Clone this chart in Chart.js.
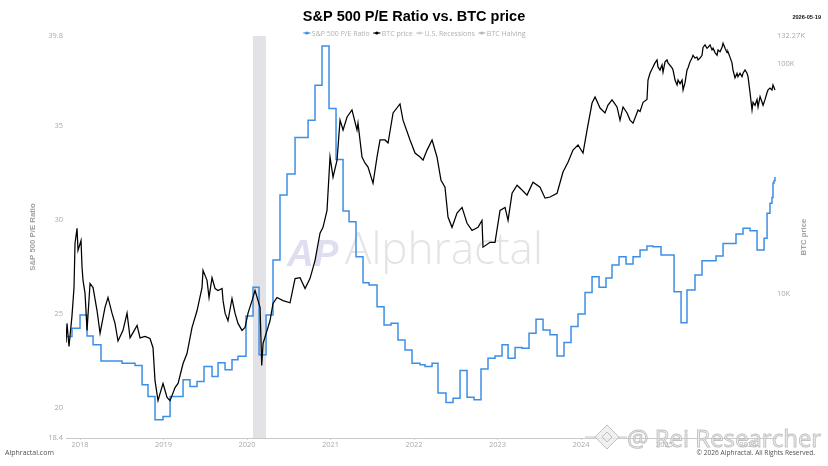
<!DOCTYPE html>
<html>
<head>
<meta charset="utf-8">
<script src="https://cdn.jsdelivr.net/npm/chart.js@4.4.1/dist/chart.umd.min.js"></script>
<style>
  html, body { margin: 0; padding: 0; background: #ffffff; }
  #wrap { width: 828px; height: 466px; position: relative; }
  canvas { display: block; }
</style>
</head>
<body>
<div id="wrap"><canvas id="chart" width="828" height="466"></canvas></div>
<script>
// ---------------- DATA ----------------
const titleText = 'S&P 500 P/E Ratio vs. BTC price';
const dateStamp = '2026-05-19';
const seriesNames = ['S&P 500 P/E Ratio', 'BTC price', 'U.S. Recessions', 'BTC Halving'];
const seriesColors = ['#3d8fe5', '#000000', '#cdcdd3', '#b4b4b4'];

const yearTicks = [2018, 2019, 2020, 2021, 2022, 2023, 2024, 2025, 2026];
const xRange = [2017.832, 2026.335];

const peTicks = [18.4, 20, 25, 30, 35, 39.8];
const btcTicks = [10000, 100000, 132270];
const btcTickLabels = ['10K', '100K', '132.27K'];
const btcRange = [2344, 132270];

const recessionRange = [2020.068, 2020.228];

// S&P 500 P/E ratio (step starts, decimal years)
const peTimes = [
  2017.832, 2017.904, 2018.000, 2018.084, 2018.156, 2018.251, 2018.503, 2018.659, 2018.743, 2018.814,
  2018.898, 2018.994, 2019.078, 2019.234, 2019.317, 2019.401, 2019.485, 2019.581, 2019.653, 2019.737,
  2019.820, 2019.892, 2019.988, 2020.072, 2020.144, 2020.228, 2020.311, 2020.395, 2020.479, 2020.575,
  2020.731, 2020.814, 2020.898, 2020.982, 2021.066, 2021.150, 2021.222, 2021.305, 2021.389, 2021.461,
  2021.557, 2021.641, 2021.725, 2021.808, 2021.892, 2021.976, 2022.072, 2022.132, 2022.216, 2022.287,
  2022.383, 2022.467, 2022.551, 2022.635, 2022.719, 2022.802, 2022.886, 2022.970, 2023.054, 2023.126,
  2023.210, 2023.293, 2023.377, 2023.461, 2023.545, 2023.629, 2023.713, 2023.796, 2023.880, 2023.964,
  2024.048, 2024.132, 2024.216, 2024.299, 2024.371, 2024.455, 2024.539, 2024.623, 2024.707, 2024.790,
  2024.862, 2024.958, 2025.114, 2025.198, 2025.269, 2025.365, 2025.449, 2025.617, 2025.701, 2025.856,
  2025.940, 2026.024, 2026.108, 2026.192, 2026.228, 2026.263, 2026.287, 2026.299, 2026.311, 2026.323
];
const peValues = [
  23.8, 24.24, 24.95, 23.83, 23.36, 22.5, 22.38, 22.26, 21.23, 20.61,
  19.37, 19.54, 20.61, 21.5, 21.14, 21.41, 22.2, 21.67, 22.41, 22.03,
  22.56, 22.75, 24.9, 26.42, 22.83, 24.95, 27.87, 31.33, 32.45, 34.4,
  35.32, 37.18, 39.27, 35.94, 33.23, 30.48, 29.91, 28.05, 26.67, 26.55,
  25.39, 24.42, 24.51, 23.62, 23.09, 22.38, 22.3, 22.2, 22.38, 20.79,
  20.29, 20.52, 21.99, 20.57, 20.43, 22.07, 22.65, 22.77, 23.36, 22.65,
  23.22, 23.18, 23.98, 24.72, 24.15, 23.89, 22.77, 23.48, 24.33, 25.0,
  26.15, 26.99, 26.42, 26.92, 27.61, 28.05, 27.66, 28.05, 28.41, 28.62,
  28.58, 28.14, 26.19, 24.54, 26.28, 27.08, 27.84, 28.09, 28.76, 29.26,
  29.56, 29.43, 28.41, 29.03, 30.37, 30.9, 31.2, 31.97, 32.1, 32.3
];

// BTC price (USD, decimal years)
const btcTimes = [
  2017.832, 2017.844, 2017.868, 2017.904, 2017.928, 2017.940, 2017.964, 2017.976, 2018.012, 2018.024,
  2018.036, 2018.060, 2018.084, 2018.120, 2018.156, 2018.204, 2018.240, 2018.299, 2018.335, 2018.383,
  2018.419, 2018.455, 2018.515, 2018.563, 2018.599, 2018.635, 2018.683, 2018.719, 2018.778, 2018.838,
  2018.874, 2018.898, 2018.934, 2018.958, 2018.994, 2019.042, 2019.078, 2019.138, 2019.174, 2019.234,
  2019.281, 2019.341, 2019.401, 2019.461, 2019.473, 2019.521, 2019.545, 2019.581, 2019.617, 2019.653,
  2019.701, 2019.713, 2019.737, 2019.772, 2019.820, 2019.856, 2019.892, 2019.940, 2019.976, 2020.012,
  2020.060, 2020.096, 2020.156, 2020.176, 2020.192, 2020.240, 2020.275, 2020.311, 2020.359, 2020.431,
  2020.515, 2020.575, 2020.635, 2020.695, 2020.754, 2020.814, 2020.874, 2020.910, 2020.958, 2020.994,
  2021.030, 2021.078, 2021.114, 2021.150, 2021.198, 2021.257, 2021.317, 2021.329, 2021.377, 2021.413,
  2021.449, 2021.509, 2021.557, 2021.593, 2021.653, 2021.689, 2021.749, 2021.832, 2021.868, 2021.952,
  2022.012, 2022.072, 2022.108, 2022.156, 2022.216, 2022.275, 2022.323, 2022.371, 2022.407, 2022.455,
  2022.515, 2022.575, 2022.635, 2022.695, 2022.766, 2022.814, 2022.826, 2022.910, 2022.970, 2023.030,
  2023.090, 2023.126, 2023.174, 2023.234, 2023.293, 2023.353, 2023.425, 2023.509, 2023.569, 2023.629,
  2023.713, 2023.784, 2023.844, 2023.904, 2023.964, 2024.024, 2024.072, 2024.132, 2024.168, 2024.228,
  2024.287, 2024.323, 2024.371, 2024.431, 2024.467, 2024.503, 2024.551, 2024.587, 2024.623, 2024.683,
  2024.707, 2024.743, 2024.790, 2024.802, 2024.826, 2024.862, 2024.886, 2024.910, 2024.922, 2024.946,
  2024.970, 2024.982, 2025.006, 2025.030, 2025.042, 2025.090, 2025.102, 2025.126, 2025.150, 2025.162,
  2025.186, 2025.210, 2025.222, 2025.246, 2025.269, 2025.281, 2025.305, 2025.329, 2025.341, 2025.365,
  2025.389, 2025.401, 2025.425, 2025.449, 2025.461, 2025.485, 2025.509, 2025.521, 2025.545, 2025.569,
  2025.581, 2025.605, 2025.629, 2025.641, 2025.665, 2025.689, 2025.701, 2025.725, 2025.749, 2025.760,
  2025.784, 2025.808, 2025.820, 2025.844, 2025.868, 2025.880, 2025.904, 2025.928, 2025.940, 2025.964,
  2025.988, 2026.000, 2026.024, 2026.048, 2026.060, 2026.084, 2026.108, 2026.120, 2026.144, 2026.168,
  2026.180, 2026.204, 2026.228, 2026.240, 2026.263, 2026.287, 2026.299, 2026.323
];
const btcPrices = [
  6100, 7400, 5870, 8000, 10600, 16500, 19200, 15400, 17000, 13000,
  11400, 10000, 6900, 11050, 10600, 8400, 6700, 8700, 9600, 8200,
  7400, 6200, 6900, 8200, 6400, 6750, 7250, 6400, 6500, 6360,
  5800, 4170, 3410, 3660, 4050, 3520, 3410, 3890, 4050, 4950,
  5470, 7100, 8400, 10600, 12600, 11400, 9600, 11700, 10500, 10300,
  10500, 9300, 8200, 7600, 9500, 8200, 7400, 6900, 7100, 8200,
  9300, 10300, 8700, 4850, 6050, 6900, 7600, 9040, 9600, 9300,
  9100, 11600, 11700, 10500, 11600, 13900, 18300, 19400, 23000, 39300,
  32100, 38100, 56900, 51500, 58700, 63000, 51500, 55200, 39300, 37000,
  35500, 30200, 39300, 46600, 46600, 45200, 61100, 66900, 56900, 46600,
  40900, 39300, 38100, 42100, 46600, 39300, 31100, 29000, 21500, 19400,
  22400, 23700, 20200, 18800, 19400, 20800, 15900, 16700, 16700, 23000,
  23700, 20800, 27300, 29600, 28200, 26800, 30500, 29000, 26000, 26300,
  27300, 33800, 37300, 42100, 44300, 40900, 51500, 67500, 71800, 64200,
  61100, 66200, 69700, 64900, 56900, 64900, 61100, 56900, 55200, 63000,
  62000, 68000, 70000, 85000, 91000, 97000, 101000, 104000, 97000, 94000,
  99000, 92000, 102000, 104000, 101000, 96000, 94000, 85000, 81000, 85000,
  82000, 85000, 77000, 83000, 94000, 96000, 102000, 106000, 109000, 106000,
  107000, 104000, 106000, 109000, 118000, 121000, 117000, 118000, 121000, 115000,
  117000, 112000, 109000, 115000, 113000, 118000, 123000, 117000, 112000, 113000,
  107000, 101000, 94000, 87000, 91000, 88000, 91000, 88000, 91000, 94000,
  91000, 88000, 75000, 63000, 68000, 66000, 70000, 65000, 72000, 68000,
  66000, 70000, 75000, 77000, 78500, 77000, 81000, 77000
];

// ---------------- CHART ----------------
const FONT = '"Open Sans", "Noto Sans", "DejaVu Sans", sans-serif';
const ARIAL = '"Liberation Sans", Arial, sans-serif';
Chart.defaults.font.family = FONT;

const tickGrey = '#a9a9a9';
const peAxisMax = peTicks[peTicks.length - 1];

const overlayPlugin = {
  id: 'overlay',
  beforeDatasetsDraw(chart) {
    const ctx = chart.ctx;
    ctx.save();
    // Alphractal watermark
    ctx.textBaseline = 'alphabetic';
    ctx.textAlign = 'left';
    ctx.fillStyle = '#dedef0';
    ctx.font = 'italic bold 37px ' + ARIAL;
    ctx.fillText('AP', 287, 266);
    ctx.fillStyle = '#e4e4e4';
    ctx.font = '300 44px ' + FONT;
    ctx.fillText('Alphractal', 345, 264);
    ctx.restore();
  },
  afterDraw(chart) {
    const ctx = chart.ctx;
    const area = chart.chartArea;
    ctx.save();

    // Legend
    ctx.font = '7px ' + FONT;
    ctx.textBaseline = 'middle';
    const markerW = 7, gapAfterMarker = 1.5, gapItem = 3.5;
    const widths = seriesNames.map(n => markerW + gapAfterMarker + ctx.measureText(n).width);
    const total = widths.reduce((a, b) => a + b, 0) + gapItem * (seriesNames.length - 1);
    let lx = 414.5 - total / 2;
    const ly = 33;
    seriesNames.forEach((name, i) => {
      ctx.strokeStyle = seriesColors[i];
      ctx.fillStyle = seriesColors[i];
      ctx.lineWidth = 1.2;
      ctx.beginPath();
      ctx.moveTo(lx, ly);
      ctx.lineTo(lx + markerW, ly);
      ctx.stroke();
      ctx.beginPath();
      ctx.arc(lx + markerW / 2, ly, 1.6, 0, Math.PI * 2);
      ctx.fill();
      ctx.fillStyle = '#b0b0b0';
      ctx.textAlign = 'left';
      ctx.fillText(name, lx + markerW + gapAfterMarker, ly + 0.5);
      lx += widths[i] + gapItem;
    });

    // Date stamp
    ctx.fillStyle = '#111';
    ctx.font = 'bold 5.6px ' + ARIAL;
    ctx.textAlign = 'right';
    ctx.fillText(dateStamp, 821, 17);

    // Right axis title (reads bottom to top)
    ctx.save();
    ctx.translate(804, (area.top + area.bottom) / 2);
    ctx.rotate(-Math.PI / 2);
    ctx.textAlign = 'center';
    ctx.fillStyle = '#a2a2a2';
    ctx.font = 'bold 7.8px ' + ARIAL;
    ctx.fillText(seriesNames[1], 0, 0);
    ctx.restore();

    // Footer
    ctx.fillStyle = '#505050';
    ctx.font = '7px ' + FONT;
    ctx.textAlign = 'left';
    ctx.fillText('Alphractal.com', 5, 453);
    ctx.textAlign = 'right';
    ctx.font = '6.6px ' + FONT;
    ctx.fillText('\u00A9 2026 Alphractal. All Rights Reserved.', 815, 453);

    // Rei Researcher watermark
    ctx.strokeStyle = 'rgba(175,175,175,0.75)';
    ctx.fillStyle = 'rgba(236,236,236,0.8)';
    ctx.lineWidth = 1;
    const cx = 607, cy = 437;
    ctx.beginPath();
    ctx.moveTo(cx, cy - 12); ctx.lineTo(cx + 12, cy); ctx.lineTo(cx, cy + 12); ctx.lineTo(cx - 12, cy); ctx.closePath();
    ctx.fill(); ctx.stroke();
    ctx.beginPath();
    ctx.moveTo(cx, cy - 5); ctx.lineTo(cx + 5, cy); ctx.lineTo(cx, cy + 5); ctx.lineTo(cx - 5, cy); ctx.closePath();
    ctx.stroke();
    ctx.beginPath(); ctx.moveTo(cx - 22, cy); ctx.lineTo(cx - 12, cy); ctx.stroke();
    ctx.beginPath(); ctx.moveTo(cx + 12, cy); ctx.lineTo(cx + 20, cy); ctx.stroke();
    ctx.font = '24px ' + FONT;
    ctx.textAlign = 'left';
    ctx.textBaseline = 'alphabetic';
    ctx.lineWidth = 0.9;
    ctx.fillText('@ Rei Researcher', 627, 447);
    ctx.strokeText('@ Rei Researcher', 627, 447);
    ctx.restore();
  }
};

const chart = new Chart(document.getElementById('chart'), {
  type: 'line',
  data: {
    datasets: [
      {
        label: seriesNames[0],
        data: peTimes.map((t, i) => ({ x: t, y: peValues[i] })),
        yAxisID: 'y',
        borderColor: seriesColors[0],
        borderWidth: 1.5,
        pointRadius: 0,
        stepped: 'before',
        fill: false,
        order: 2
      },
      {
        label: seriesNames[1],
        data: btcTimes.map((t, i) => ({ x: t, y: btcPrices[i] })),
        yAxisID: 'y1',
        borderColor: seriesColors[1],
        borderWidth: 1.25,
        pointRadius: 0,
        tension: 0,
        fill: false,
        order: 1
      },
      {
        label: seriesNames[2],
        data: recessionRange.map(t => ({ x: t, y: peAxisMax })),
        yAxisID: 'y',
        borderColor: 'rgba(0,0,0,0)',
        borderWidth: 0,
        pointRadius: 0,
        backgroundColor: '#e3e3e7',
        fill: 'start',
        order: 3
      },
      {
        label: seriesNames[3],
        data: [],
        yAxisID: 'y',
        borderColor: seriesColors[3],
        pointRadius: 0,
        hidden: true,
        order: 4
      }
    ]
  },
  options: {
    responsive: false,
    animation: false,
    events: [],
    layout: { padding: 0 },
    plugins: {
      legend: { display: false },
      tooltip: { enabled: false },
      title: {
        display: true,
        text: titleText,
        color: '#000000',
        font: { family: ARIAL, size: 14.5, weight: 'bold', lineHeight: 1.2 },
        padding: { top: 8.3, bottom: 10.3 }
      }
    },
    scales: {
      x: {
        type: 'linear',
        min: xRange[0],
        max: xRange[1],
        afterBuildTicks: s => { s.ticks = yearTicks.map(v => ({ value: v })); },
        afterFit: s => { s.height = 28; },
        ticks: {
          callback: v => String(v),
          color: tickGrey,
          font: { size: 7.5 },
          padding: 0,
          maxRotation: 0,
          autoSkip: false
        },
        grid: { display: true, drawOnChartArea: false, drawTicks: true, tickLength: 2, color: '#d4d4d4' },
        border: { display: true, color: '#c9c9c9', width: 1 }
      },
      y: {
        type: 'linear',
        position: 'left',
        min: peTicks[0],
        max: peAxisMax,
        afterBuildTicks: s => { s.ticks = peTicks.map(v => ({ value: v })); },
        afterFit: s => { s.width = 66; },
        ticks: { callback: v => String(v), color: tickGrey, font: { size: 7.5 }, padding: 3 },
        grid: { display: false, drawTicks: false },
        border: { display: false },
        title: {
          display: true,
          text: seriesNames[0],
          color: '#a2a2a2',
          font: { family: ARIAL, size: 7.8, weight: 'bold', lineHeight: 1.2 },
          padding: { top: 28.3, bottom: 0 }
        }
      },
      y1: {
        type: 'logarithmic',
        position: 'right',
        min: btcRange[0],
        max: btcRange[1],
        afterBuildTicks: s => { s.ticks = btcTicks.map(v => ({ value: v })); },
        afterFit: s => { s.width = 52; },
        ticks: {
          callback: v => { const k = btcTicks.indexOf(v); return k >= 0 ? btcTickLabels[k] : ''; },
          color: tickGrey,
          font: { size: 7.5 },
          padding: 1
        },
        grid: { display: false, drawTicks: false },
        border: { display: false }
      }
    }
  },
  plugins: [overlayPlugin]
});
</script>
</body>
</html>
